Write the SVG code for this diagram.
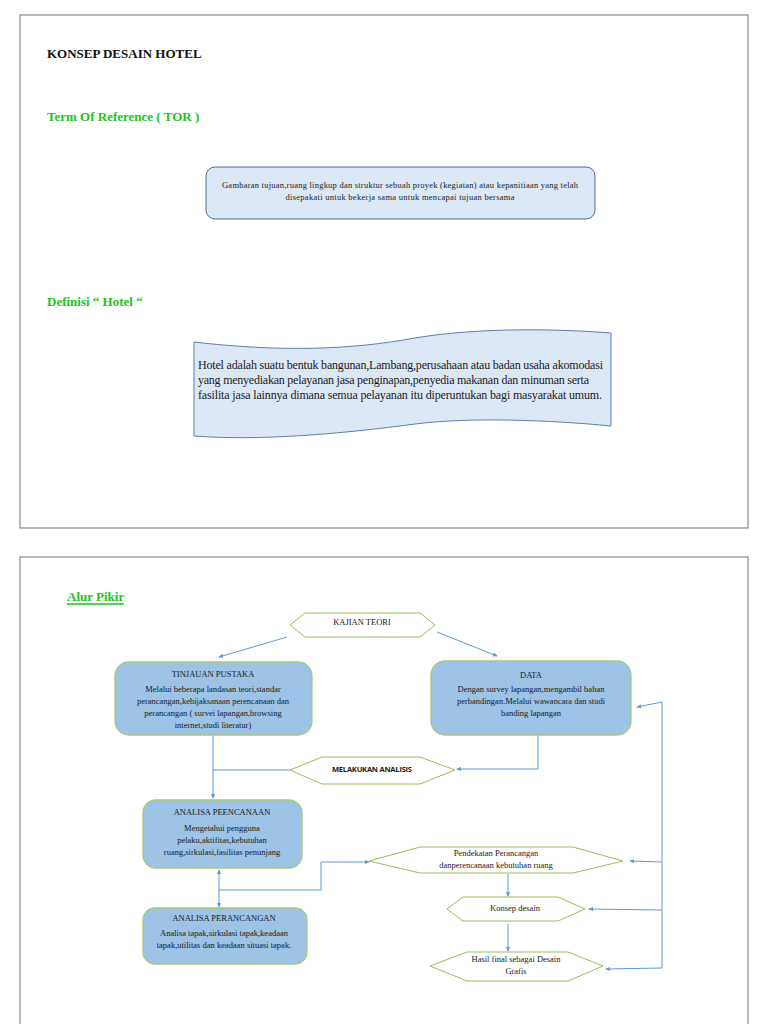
<svg xmlns="http://www.w3.org/2000/svg" width="768" height="1024" viewBox="0 0 768 1024">
<style>
.page{fill:#fff;stroke:#8a8a8a;stroke-width:1.2}
.h{font-family:"Liberation Serif",serif;font-weight:bold;font-size:13px}
.g{fill:#22c322}
.box{fill:#9dc3e6;stroke:#a9c97a;stroke-width:1.3}
.hex{fill:#fff;stroke:#9bbb59;stroke-width:1}
.t{font-family:"Liberation Serif",serif;font-size:8.5px;fill:#1a1a1a;text-anchor:middle}
.c{fill:none;stroke:#5b9bd5;stroke-width:1}
</style>
<defs>
<marker id="a" viewBox="0 0 6 6" refX="5" refY="3" markerWidth="5" markerHeight="5" orient="auto">
<path d="M0,0.5 L6,3 L0,5.5 Z" fill="#5b9bd5"/>
</marker>
</defs>
<rect width="768" height="1024" fill="#fff"/>
<rect class="page" x="20" y="15" width="728" height="513"/>
<rect class="page" x="20" y="557" width="728" height="500"/>

<text class="h" x="47" y="58" fill="#111">KONSEP DESAIN HOTEL</text>
<text class="h g" x="47" y="121">Term Of Reference ( TOR )</text>

<g id="tor">
<rect x="206" y="167" width="389" height="52" rx="9" fill="#dce8f6" stroke="#4f6b8f" stroke-width="1"/>
<text class="t" x="400" y="188" font-size="8.3" textLength="356">Gambaran tujuan,ruang lingkup dan struktur sebuah proyek (kegiatan) atau kepanitiaan yang telah</text>
<text class="t" x="400" y="200" font-size="8.3" textLength="229">disepakati untuk bekerja sama untuk mencapai tujuan bersama</text>
</g>

<text class="h g" x="47" y="306">Definisi “ Hotel “</text>

<g id="definisi">
<path d="M194,342 C280,352 350,350 415,338 C480,327 560,329 611,333 L611,426 C550,420 470,417 415,424 C340,434 260,441 194,436 Z" fill="#dce8f6" stroke="#5b7fb0" stroke-width="1"/>
<text x="198" y="369" font-family="Liberation Serif,serif" font-size="12" fill="#1a1a1a" textLength="405">Hotel adalah suatu bentuk bangunan,Lambang,perusahaan atau badan usaha akomodasi</text>
<text x="198" y="384" font-family="Liberation Serif,serif" font-size="12" fill="#1a1a1a" textLength="391">yang menyediakan pelayanan jasa penginapan,penyedia makanan dan minuman serta</text>
<text x="198" y="399" font-family="Liberation Serif,serif" font-size="12" fill="#1a1a1a" textLength="404">fasilita jasa lainnya dimana semua pelayanan itu diperuntukan bagi masyarakat umum.</text>
</g>

<text class="h g" x="67" y="601">Alur Pikir</text>
<line x1="67" y1="604" x2="124" y2="604" stroke="#22c322" stroke-width="1.3"/>

<g id="connectors">
<line class="c" x1="287" y1="637" x2="219" y2="657" marker-end="url(#a)"/>
<line class="c" x1="437" y1="632" x2="497" y2="656" marker-end="url(#a)"/>
<line class="c" x1="213" y1="735" x2="213" y2="798" marker-end="url(#a)"/>
<line class="c" x1="213" y1="770" x2="290" y2="770"/>
<polyline class="c" points="538,735 538,769 457,769" marker-end="url(#a)"/>
<line class="c" x1="219" y1="890" x2="219" y2="870" marker-end="url(#a)"/>
<line class="c" x1="219" y1="890" x2="219" y2="907" marker-end="url(#a)"/>
<polyline class="c" points="219,890 321,890 321,862 369,862" marker-end="url(#a)"/>
<line class="c" x1="508" y1="874" x2="508" y2="896" marker-end="url(#a)"/>
<line class="c" x1="508" y1="924" x2="508" y2="951" marker-end="url(#a)"/>
<line class="c" x1="662" y1="702" x2="662" y2="968"/>
<line class="c" x1="662" y1="702" x2="637" y2="707" marker-end="url(#a)"/>
<line class="c" x1="662" y1="862" x2="630" y2="861" marker-end="url(#a)"/>
<line class="c" x1="662" y1="910" x2="589" y2="909" marker-end="url(#a)"/>
<line class="c" x1="662" y1="968" x2="606" y2="969" marker-end="url(#a)"/>
</g>

<g id="kajian">
<polygon class="hex" points="290,625 305,613 420,613 435,625 420,637 305,637"/>
<text class="t" x="362" y="625">KAJIAN TEORI</text>
</g>

<g id="tinjauan">
<rect class="box" x="115" y="662" width="197" height="73" rx="14"/>
<text class="t" x="213" y="677">TINJAUAN PUSTAKA</text>
<text class="t" x="213" y="692">Melalui  beberapa landasan teori,standar</text>
<text class="t" x="213" y="704">perancangan,kebijaksanaan perencanaan dan</text>
<text class="t" x="213" y="716">perancangan ( survei lapangan,browsing</text>
<text class="t" x="213" y="728">internet,studi literatur)</text>
</g>

<g id="data">
<rect class="box" x="431" y="661" width="200" height="74" rx="14"/>
<text class="t" x="531" y="678">DATA</text>
<text class="t" x="531" y="692">Dengan survey lapangan,mengambil bahan</text>
<text class="t" x="531" y="704">perbandingan.Melalui wawancara dan studi</text>
<text class="t" x="531" y="716">banding lapangan</text>
</g>

<g id="analisis">
<polygon class="hex" points="290,770 322,757 420,757 455,770 420,784 322,784"/>
<text x="372" y="772" font-family="'Open Sans','Liberation Sans',sans-serif" font-size="7.5" font-weight="bold" fill="#1a1a1a" text-anchor="middle" textLength="80">MELAKUKAN ANALISIS</text>
</g>

<g id="peencanaan">
<rect class="box" x="143" y="800" width="159" height="68" rx="13"/>
<text class="t" x="222" y="815">ANALISA PEENCANAAN</text>
<text class="t" x="222" y="831">Mengetahui pengguna</text>
<text class="t" x="222" y="843">pelaku,aktifitas,kebutuhan</text>
<text class="t" x="222" y="855">ruang,sirkulasi,fasilitas penunjang</text>
</g>

<g id="perancangan">
<rect class="box" x="143" y="908" width="164" height="56" rx="12"/>
<text class="t" x="224" y="921">ANALISA PERANCANGAN</text>
<text class="t" x="224" y="936">Analisa tapak,sirkulasi tapak,keadaan</text>
<text class="t" x="224" y="948">tapak,utilitas dan keadaan situasi tapak.</text>
</g>

<g id="pendekatan">
<polygon class="hex" points="369,861 420,847 573,847 623,861 573,873 420,873"/>
<text class="t" x="496" y="856">Pendekatan Perancangan</text>
<text class="t" x="496" y="868">danperencanaan kebutuhan ruang</text>
</g>

<g id="konsep">
<polygon class="hex" points="447,909 463,897 558,897 585,909 558,921 463,921"/>
<text class="t" x="515" y="911">Konsep desain</text>
</g>

<g id="hasil">
<polygon class="hex" points="430,966 467,952 568,952 603,966 568,981 467,981"/>
<text class="t" x="516" y="962">Hasil final sebagai Desain</text>
<text class="t" x="516" y="974">Grafis</text>
</g>
</svg>
